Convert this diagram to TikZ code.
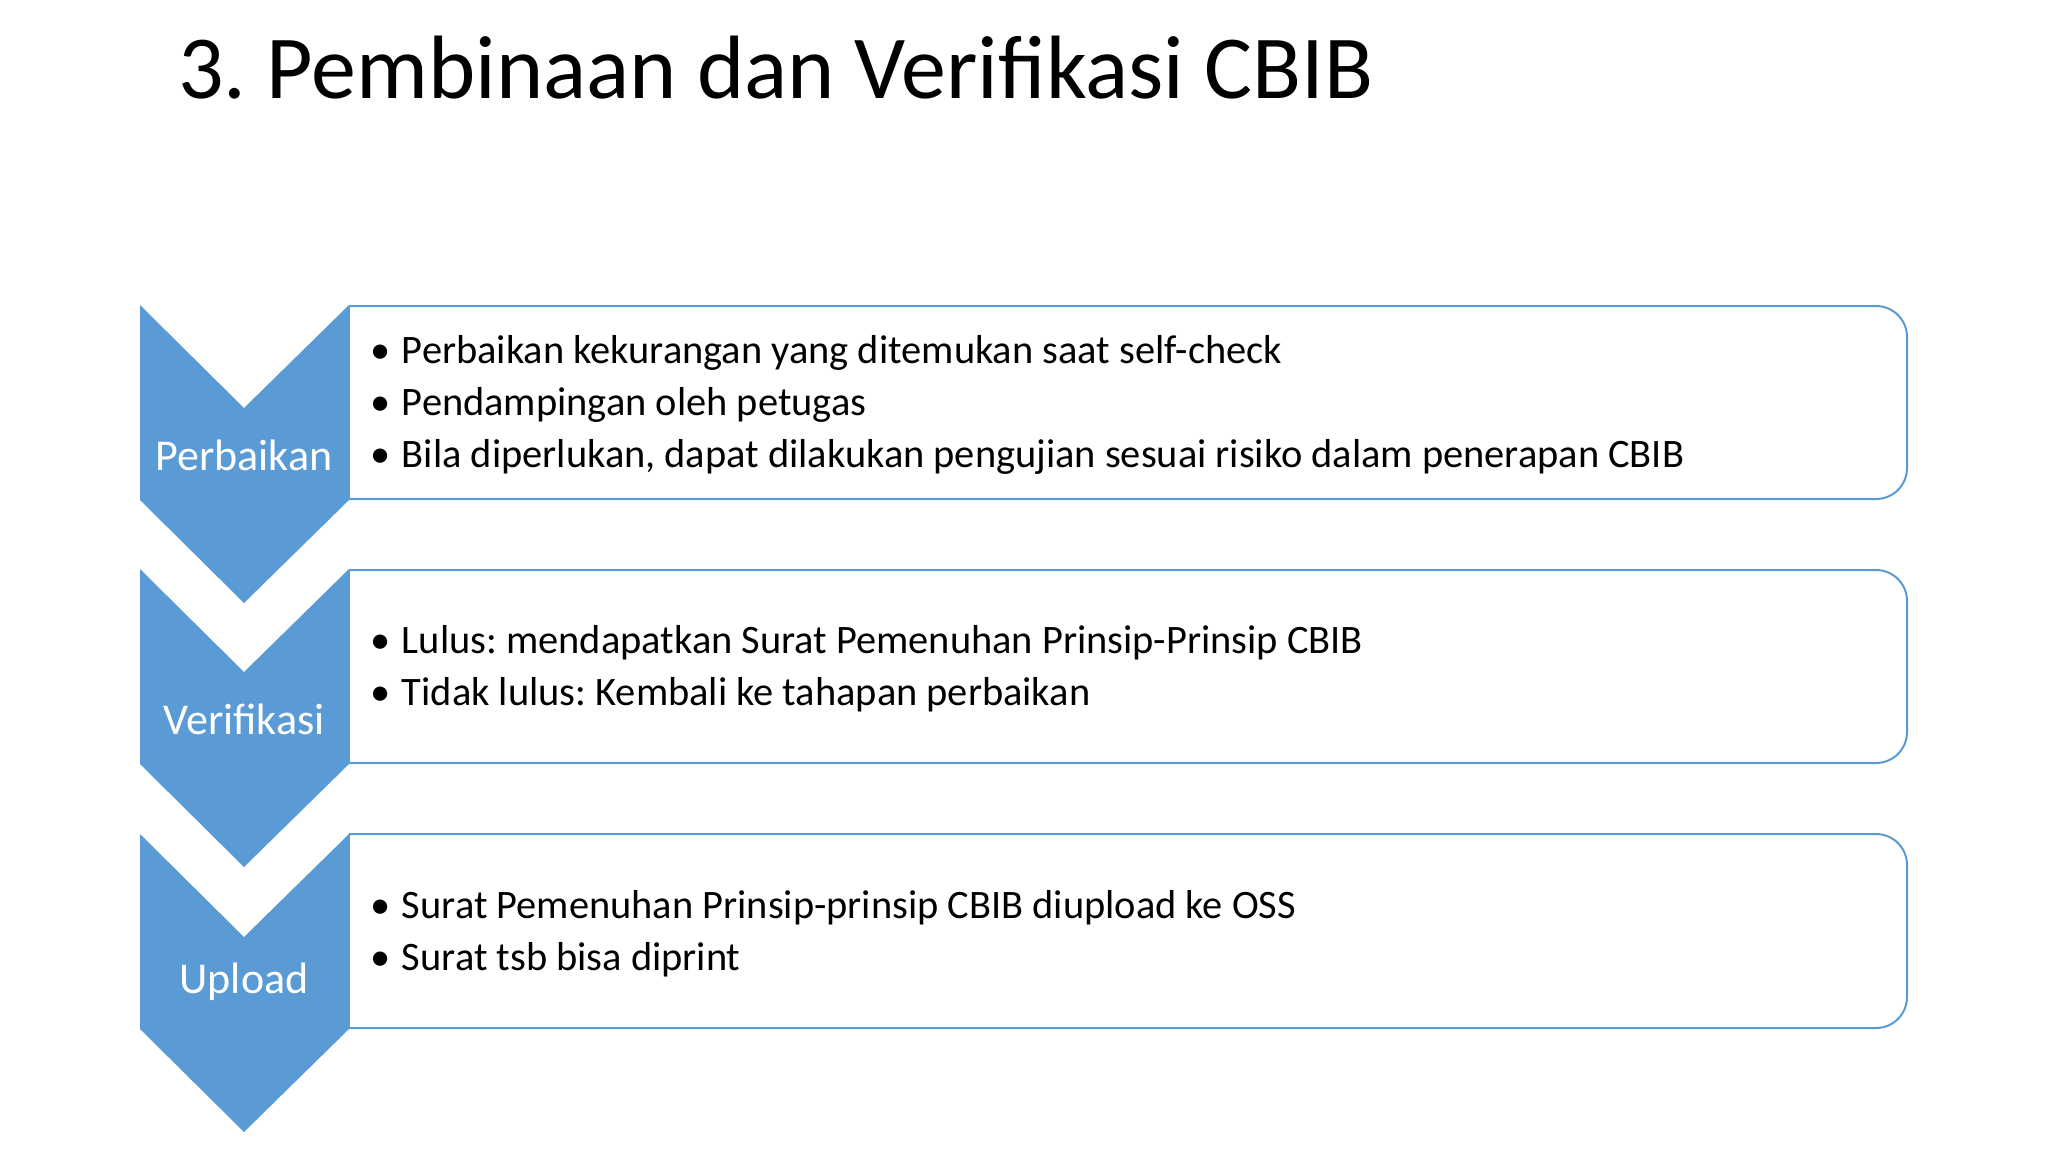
\documentclass[tikz,border=0pt]{standalone}
\usepackage{fontspec}
\setmainfont{Carlito}
\usepackage{tikz}
\definecolor{stepblue}{RGB}{91,155,213}
\tikzset{every picture/.style={line width=1pt}}
\tikzset{
  chevron/.style={fill=stepblue, draw=none},
  itembox/.style={draw=stepblue, line width=1pt},
  steplabel/.style={text=white, inner sep=0pt, font=\fontsize{22}{26}\selectfont},
  itemline/.style={anchor=base west, inner sep=0pt, font=\fontsize{20.2}{26}\selectfont},
}
\newcommand{\itembullet}{\makebox[0pt][c]{•}\hspace*{10.5pt}}
\frenchspacing

\begin{document}
\begin{tikzpicture}[x=0.5pt,y=0.5pt,yscale=-1]
\useasboundingbox (0,0) rectangle (2048,1152);

%Title
\node[anchor=base west, inner sep=0pt, font=\fontsize{45}{54}\selectfont] (title) at (177,98) {3. Pembinaan dan Verifikasi CBIB};

%Box: Perbaikan
\draw[itembox, rounded corners=15.5pt] (349,306) -- (1907,306) -- (1907,499) -- (349,499);
\draw[itembox] (349,306) -- (349,499);
%Box: Verifikasi
\draw[itembox, rounded corners=15.5pt] (349,570) -- (1907,570) -- (1907,763) -- (349,763);
\draw[itembox] (349,570) -- (349,763);
%Box: Upload
\draw[itembox, rounded corners=15.5pt] (349,834) -- (1907,834) -- (1907,1028) -- (349,1028);
\draw[itembox] (349,834) -- (349,1028);

%Chevron: Perbaikan
\fill[chevron] (140,305) -- (244,408) -- (349,305) -- (349,500) -- (244,603) -- (140,500) -- cycle;
%Chevron: Verifikasi
\fill[chevron] (140,569) -- (244,672) -- (349,569) -- (349,764) -- (244,867) -- (140,764) -- cycle;
%Chevron: Upload
\fill[chevron] (140,834) -- (244,937) -- (349,834) -- (349,1029) -- (244,1132) -- (140,1029) -- cycle;

%Labels
\node[steplabel] (perbaikan) at (244,455) {Perbaikan};
\node[steplabel] (verifikasi) at (244,719) {Verifikasi};
\node[steplabel] (upload) at (244,982) {Upload};

%Items: Perbaikan
\node[itemline] (perbaikan1) at (380,363) {\itembullet Perbaikan kekurangan yang ditemukan saat self-check};
\node[itemline] (perbaikan2) at (380,415) {\itembullet Pendampingan oleh petugas};
\node[itemline] (perbaikan3) at (380,467) {\itembullet Bila diperlukan, dapat dilakukan pengujian sesuai risiko dalam penerapan CBIB};
%Items: Verifikasi
\node[itemline] (verifikasi1) at (380,653) {\itembullet Lulus: mendapatkan Surat Pemenuhan Prinsip-Prinsip CBIB};
\node[itemline] (verifikasi2) at (380,705) {\itembullet Tidak lulus: Kembali ke tahapan perbaikan};
%Items: Upload
\node[itemline] (upload1) at (380,918) {\itembullet Surat Pemenuhan Prinsip-prinsip CBIB diupload ke OSS};
\node[itemline] (upload2) at (380,970) {\itembullet Surat tsb bisa diprint};

\end{tikzpicture}
\end{document}
